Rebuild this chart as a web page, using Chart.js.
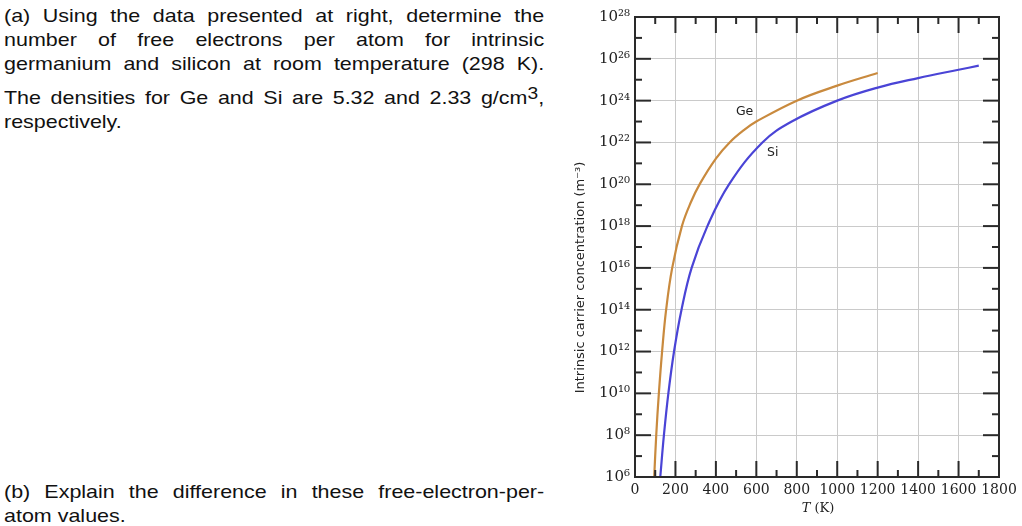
<!DOCTYPE html>
<html>
<head>
<meta charset="utf-8">
<script src="https://cdn.jsdelivr.net/npm/chart.js@4.4.1/dist/chart.umd.min.js"></script>
<style>
  html, body { margin: 0; padding: 0; background: #fff; }
  body { width: 1022px; height: 526px; position: relative; overflow: hidden;
         font-family: "Liberation Sans", Arial, sans-serif; color: #111; }
  .ln { position: absolute; left: 4px; width: 478px; font-size: 19px; line-height: 19px;
        text-align: justify; text-align-last: justify;
        transform: scaleX(1.13); transform-origin: 0 0; }
  .ln.last { text-align: left; text-align-last: left; }
  .sup { font-size: 17px; position: relative; top: -5px; }
  #wrap { position: absolute; left: 560px; top: 0; width: 462px; height: 526px; }
</style>
</head>
<body>
<div class="ln" style="top:5.6px">(a) Using the data presented at right, determine the</div>
<div class="ln" style="top:29.9px">number of free electrons per atom for intrinsic</div>
<div class="ln" style="top:54.2px">germanium and silicon at room temperature (298 K).</div>
<div class="ln" style="top:88.2px">The densities for Ge and Si are 5.32 and 2.33 g/cm<span class="sup">3</span>,</div>
<div class="ln last" style="top:111.6px">respectively.</div>
<div class="ln" style="top:482.4px">(b) Explain the difference in these free-electron-per-</div>
<div class="ln last" style="top:506.4px">atom values.</div>

<div id="wrap"><canvas id="chart" width="462" height="526"></canvas></div>

<script>
// Temperature (K) and intrinsic carrier concentration (m^-3)
const geTemp = [95, 105, 118, 134, 154, 184, 232, 275, 322, 400, 468, 540, 600, 800, 1000, 1200];
const geConc = [1e6, 1e8, 1e10, 1e12, 1e14, 1e16, 1e18, 1.3e19, 1.1e20, 1.7e21, 1e22, 4e22, 1e23, 1e24, 5.2e24, 2.1e25];

const siTemp = [125, 143, 165, 193, 230, 280, 358, 465, 630, 775, 1000, 1200, 1400, 1600, 1700];
const siConc = [1e6, 1e8, 1e10, 1e12, 1e14, 1e16, 1e18, 1e20, 1e22, 1e23, 1e24, 4.2e24, 1.2e25, 3e25, 4.7e25];

// y axis: one labelled line every two decades
const yExponents = [6, 8, 10, 12, 14, 16, 18, 20, 22, 24, 26, 28];

// curve names written on the plot
const curveNames = ['Ge', 'Si'];
const curveNameTemp = [542, 681];
const curveNameConc = [2.8e23, 3.3e21];

const SUP = {'0':'⁰','1':'¹','2':'²','3':'³','4':'⁴','5':'⁵','6':'⁶','7':'⁷','8':'⁸','9':'⁹','-':'⁻'};
const sup = n => String(n).split('').map(c => SUP[c]).join('');

const serif = '"DejaVu Serif", "Liberation Serif", serif';

const framePlugin = {
    id: 'frame',
    afterDatasetsDraw(chart) {
        const { ctx, chartArea: a, scales: { x, y } } = chart;
        ctx.save();
        ctx.strokeStyle = '#2a2a2a';
        ctx.lineWidth = 2;
        const seg = (x1, y1, x2, y2) => { ctx.beginPath(); ctx.moveTo(x1, y1); ctx.lineTo(x2, y2); ctx.stroke(); };

        // inward ticks on the temperature axis (major 200, minor 100)
        for (let t = 100; t < 1800; t += 100) {
            const px = x.getPixelForValue(t);
            const len = t % 200 === 0 ? 16 : 7;
            seg(px, a.bottom, px, a.bottom - len);
            seg(px, a.top, px, a.top + len);
        }
        // inward ticks on the concentration axis (major every 2 decades)
        for (let e = 7; e < 28; e++) {
            const py = y.getPixelForValue(Math.pow(10, e));
            const len = e % 2 === 0 ? 16 : 7;
            seg(a.left, py, a.left + len, py);
            seg(a.right, py, a.right - len, py);
        }
        ctx.strokeRect(a.left, a.top, a.right - a.left, a.bottom - a.top);

        // curve names
        ctx.fillStyle = '#222';
        ctx.font = '12.5px "DejaVu Sans", sans-serif';
        ctx.textAlign = 'center';
        ctx.textBaseline = 'middle';
        curveNames.forEach((name, i) => {
            ctx.fillText(name, x.getPixelForValue(curveNameTemp[i]), y.getPixelForValue(curveNameConc[i]));
        });

        // y title
        ctx.save();
        ctx.translate(21, 277.5);
        ctx.rotate(-Math.PI / 2);
        ctx.font = '13px "DejaVu Sans", sans-serif';
        ctx.fillText('Intrinsic carrier concentration (m' + sup('-3') + ')', 0, 0);
        ctx.restore();

        // x title: T (K) with italic T
        ctx.textAlign = 'left';
        ctx.font = 'italic 13px ' + serif;
        const wT = ctx.measureText('T').width;
        ctx.font = '13px ' + serif;
        const wK = ctx.measureText(' (K)').width;
        const x0 = 258 - (wT + wK) / 2;
        ctx.font = 'italic 13px ' + serif;
        ctx.fillText('T', x0, 509);
        ctx.font = '13px ' + serif;
        ctx.fillText(' (K)', x0 + wT, 509);
        ctx.restore();
    }
};

new Chart(document.getElementById('chart'), {
    type: 'line',
    data: {
        datasets: [{
            label: 'Ge',
            data: geTemp.map((t, i) => ({ x: t, y: geConc[i] })),
            borderColor: '#c98a3e',
            borderWidth: 2.2,
            pointRadius: 0,
            tension: 0.4,
            fill: false
        }, {
            label: 'Si',
            data: siTemp.map((t, i) => ({ x: t, y: siConc[i] })),
            borderColor: '#4a44d6',
            borderWidth: 2.2,
            pointRadius: 0,
            tension: 0.4,
            fill: false
        }]
    },
    options: {
        responsive: false,
        animation: false,
        devicePixelRatio: 1,
        layout: { padding: { top: 17, right: 23, left: 0, bottom: 0 } },
        plugins: { legend: { display: false }, tooltip: { enabled: false } },
        scales: {
            x: {
                type: 'linear',
                min: 0,
                max: 1800,
                ticks: { stepSize: 200, padding: 5, color: '#222', maxRotation: 0, autoSkip: false,
                         callback: v => String(v),
                         font: { family: serif, size: 14 } },
                grid: { color: '#cacaca', lineWidth: 1, drawTicks: false },
                border: { display: false },
                afterFit(s) { s.height = 49; }
            },
            y: {
                type: 'logarithmic',
                min: 1e6,
                max: 1e28,
                afterBuildTicks(s) { s.ticks = yExponents.map(e => ({ value: Math.pow(10, e) })); },
                ticks: { padding: 5, color: '#222', autoSkip: false,
                         callback: v => '10' + sup(Math.round(Math.log10(v))),
                         font: { family: serif, size: 15 } },
                grid: { color: '#cacaca', lineWidth: 1, drawTicks: false },
                border: { display: false },
                afterFit(s) { s.width = 75; }
            }
        }
    },
    plugins: [framePlugin]
});
</script>
</body>
</html>
